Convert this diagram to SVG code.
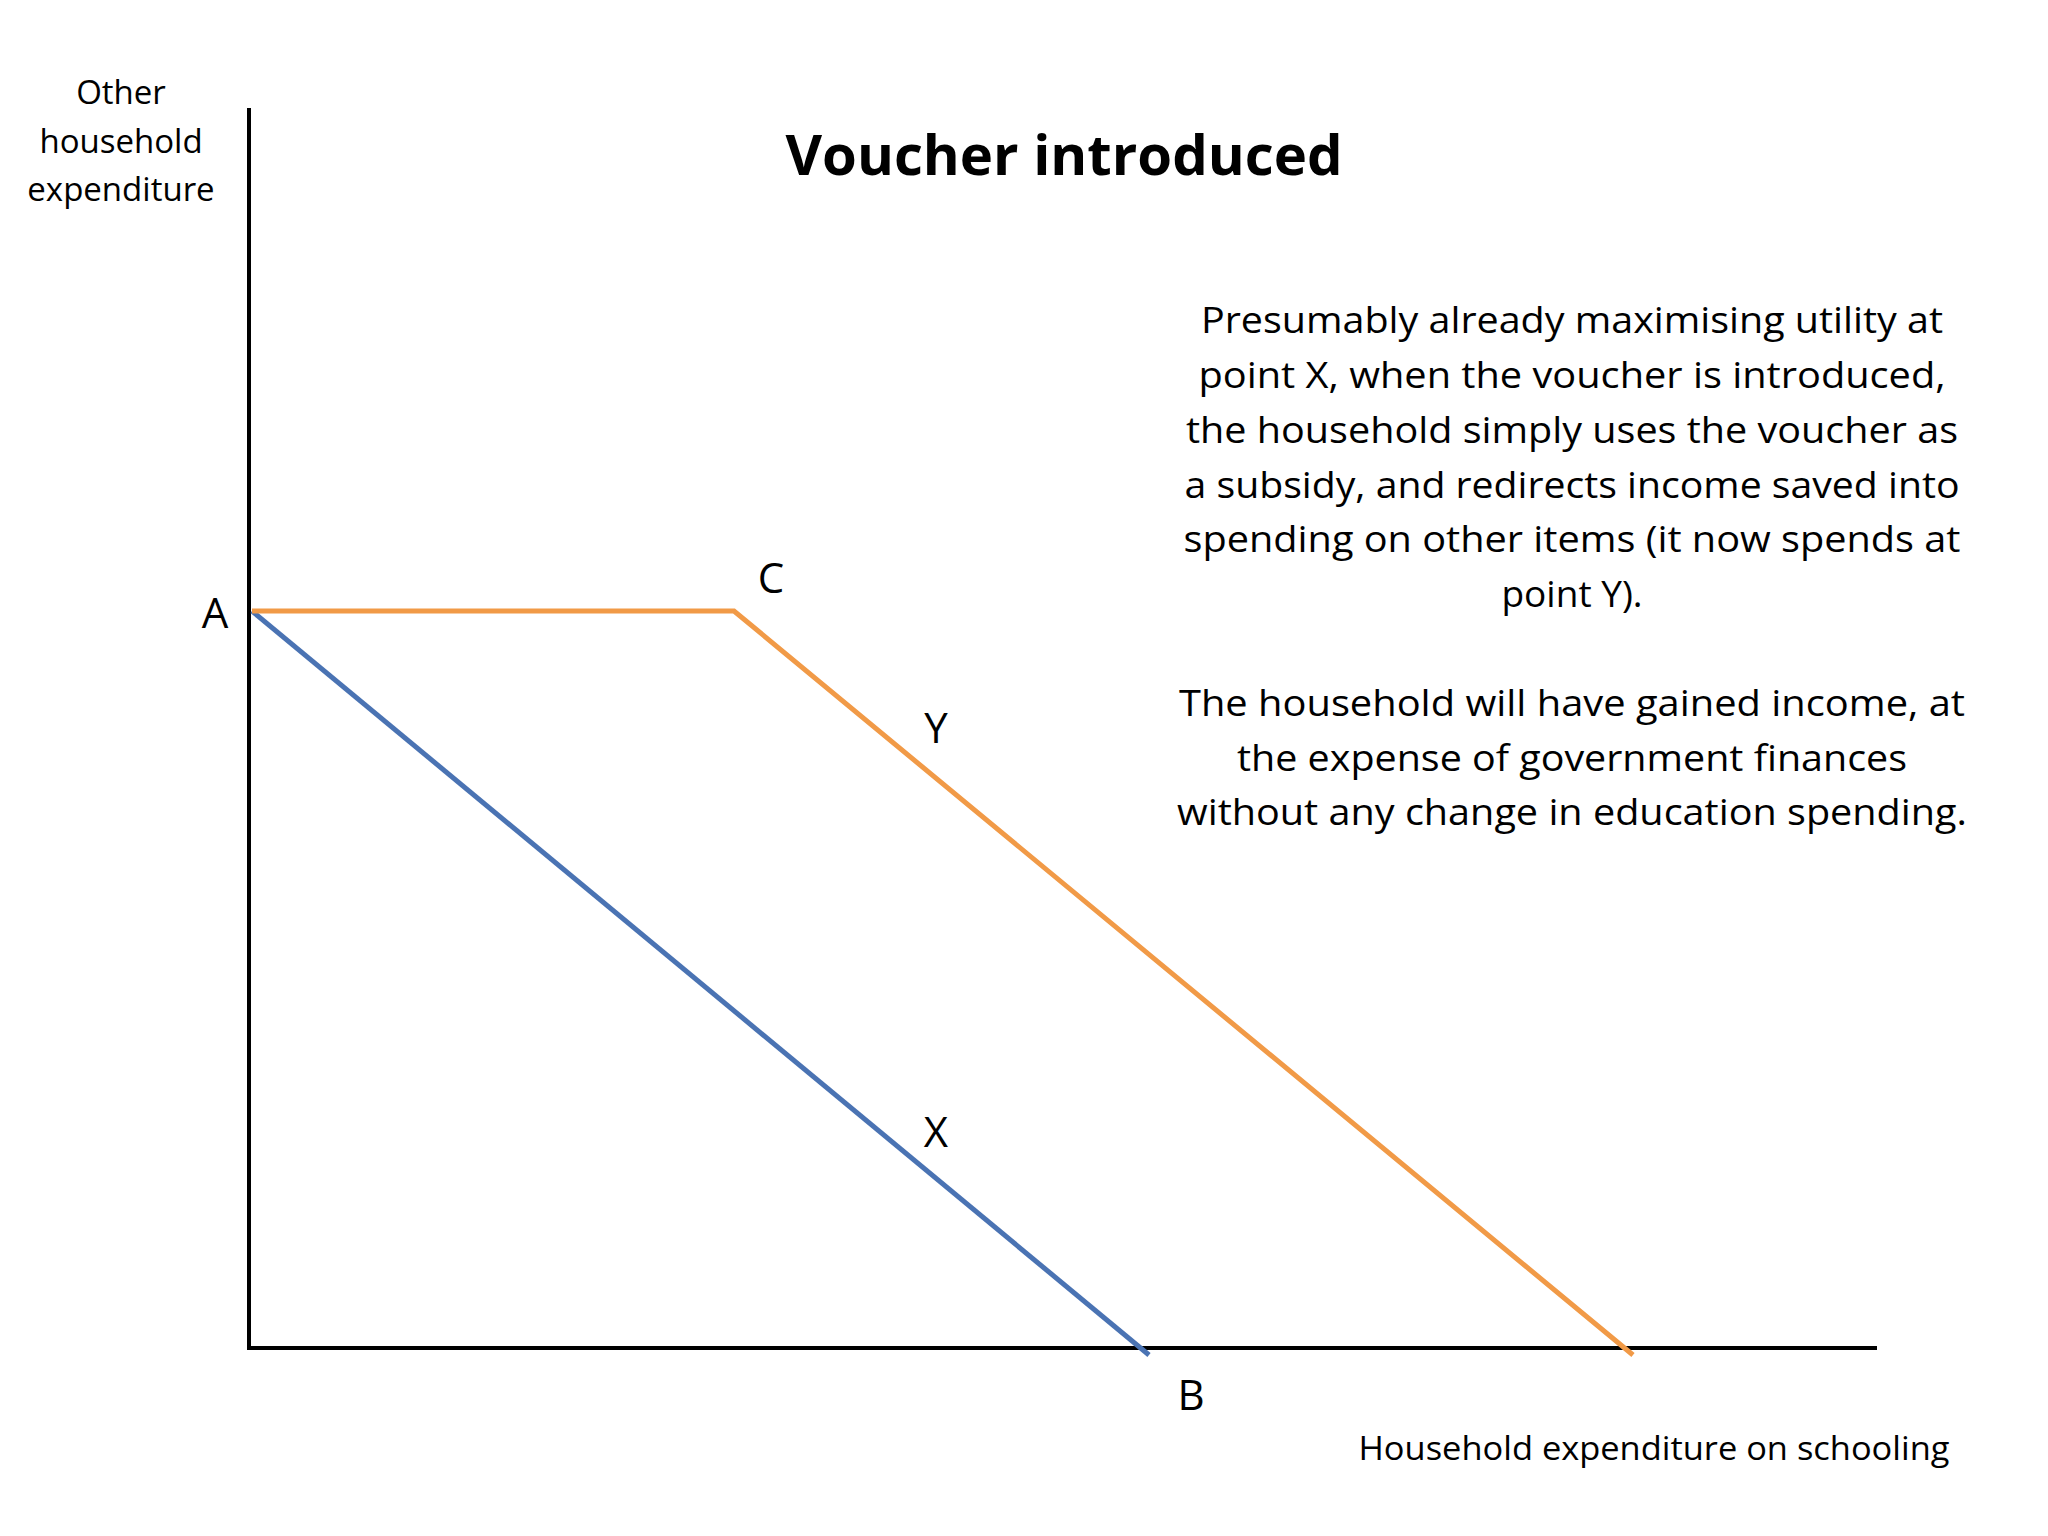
<svg xmlns="http://www.w3.org/2000/svg" width="2048" height="1536" viewBox="0 0 2048 1536">
<style>
text{font-family:"Open Sans","Noto Sans",sans-serif;fill:#000}
.b{font-size:37px;text-anchor:middle}
.l{font-size:42px;text-anchor:middle}
.a{font-size:33px;text-anchor:middle}
</style>
<rect width="2048" height="1536" fill="#fff"/>
<g id="axes" stroke="#000" stroke-width="4" fill="none">
<polyline points="249,108 249,1348 1877,1348"/>
</g>
<g id="connectors" fill="none" stroke-width="5">
<line x1="252" y1="611" x2="1149" y2="1355" stroke="#4a73b3"/>
<polyline points="252,611 734,611 1633,1355" stroke="#f19a47"/>
</g>
<g id="labels">
<text class="a" x="121" y="104">Other</text>
<text class="a" x="121" y="153">household</text>
<text class="a" x="121" y="201">expenditure</text>
<text x="1064" y="175" font-size="56" font-weight="bold" text-anchor="middle" textLength="557" lengthAdjust="spacingAndGlyphs">Voucher introduced</text>
<text class="l" x="215" y="628">A</text>
<text class="l" x="771" y="593">C</text>
<text class="l" x="936" y="743">Y</text>
<text class="l" x="936" y="1147">X</text>
<text class="l" x="1191" y="1410">B</text>
<text class="a" x="1654" y="1460" textLength="591" lengthAdjust="spacingAndGlyphs">Household expenditure on schooling</text>
</g>
<g id="note">
<text class="b" x="1572" y="333" textLength="742" lengthAdjust="spacingAndGlyphs">Presumably already maximising utility at</text>
<text class="b" x="1572" y="388" textLength="747" lengthAdjust="spacingAndGlyphs">point X, when the voucher is introduced,</text>
<text class="b" x="1572" y="443" textLength="772" lengthAdjust="spacingAndGlyphs">the household simply uses the voucher as</text>
<text class="b" x="1572" y="498" textLength="775" lengthAdjust="spacingAndGlyphs">a subsidy, and redirects income saved into</text>
<text class="b" x="1572" y="552" textLength="777" lengthAdjust="spacingAndGlyphs">spending on other items (it now spends at</text>
<text class="b" x="1572" y="607">point Y).</text>
<text class="b" x="1572" y="716" textLength="786" lengthAdjust="spacingAndGlyphs">The household will have gained income, at</text>
<text class="b" x="1572" y="771" textLength="670" lengthAdjust="spacingAndGlyphs">the expense of government finances</text>
<text class="b" x="1572" y="825" textLength="790" lengthAdjust="spacingAndGlyphs">without any change in education spending.</text>
</g>
</svg>
